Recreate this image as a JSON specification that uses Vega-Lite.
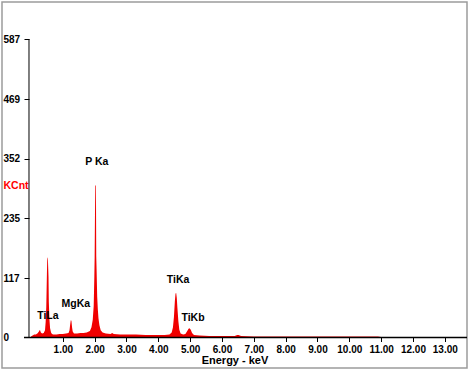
{
  "$schema": "https://vega.github.io/schema/vega-lite/v6.json",
  "width": 465,
  "height": 366,
  "autosize": {"type": "none"},
  "padding": {"left": 2, "top": 2, "right": 7, "bottom": 4},
  "background": "#ffffff",
  "config": {
    "view": {"stroke": "#9c9c9c", "strokeWidth": 1.5},
    "font": "Liberation Sans",
    "axis": {"labelOverlap": false, "grid": false, "domain": false}
  },
  "datasets": {
    "spectrum": [
      {"energy": 0.0, "count": 2}, {"energy": 0.05, "count": 4}, {"energy": 0.1, "count": 6},
      {"energy": 0.15, "count": 6}, {"energy": 0.2, "count": 8}, {"energy": 0.25, "count": 12},
      {"energy": 0.28, "count": 15}, {"energy": 0.31, "count": 10}, {"energy": 0.35, "count": 8},
      {"energy": 0.4, "count": 9}, {"energy": 0.44, "count": 14}, {"energy": 0.46, "count": 30},
      {"energy": 0.48, "count": 60}, {"energy": 0.5, "count": 125}, {"energy": 0.51, "count": 152},
      {"energy": 0.52, "count": 158}, {"energy": 0.53, "count": 156}, {"energy": 0.55, "count": 120},
      {"energy": 0.56, "count": 70}, {"energy": 0.58, "count": 35}, {"energy": 0.6, "count": 18},
      {"energy": 0.63, "count": 10}, {"energy": 0.66, "count": 7}, {"energy": 0.7, "count": 6},
      {"energy": 0.8, "count": 6}, {"energy": 0.9, "count": 7}, {"energy": 1.0, "count": 7},
      {"energy": 1.1, "count": 8}, {"energy": 1.18, "count": 9}, {"energy": 1.21, "count": 14},
      {"energy": 1.23, "count": 25}, {"energy": 1.25, "count": 34}, {"energy": 1.27, "count": 33},
      {"energy": 1.29, "count": 20}, {"energy": 1.31, "count": 12}, {"energy": 1.35, "count": 8},
      {"energy": 1.45, "count": 8}, {"energy": 1.55, "count": 9}, {"energy": 1.65, "count": 9},
      {"energy": 1.75, "count": 10}, {"energy": 1.85, "count": 13}, {"energy": 1.9, "count": 20},
      {"energy": 1.94, "count": 35}, {"energy": 1.97, "count": 62}, {"energy": 1.99, "count": 120},
      {"energy": 2.0, "count": 158}, {"energy": 2.01, "count": 240}, {"energy": 2.02, "count": 300},
      {"energy": 2.04, "count": 298}, {"energy": 2.05, "count": 160}, {"energy": 2.06, "count": 135},
      {"energy": 2.08, "count": 80}, {"energy": 2.1, "count": 55}, {"energy": 2.12, "count": 38},
      {"energy": 2.15, "count": 24}, {"energy": 2.19, "count": 14}, {"energy": 2.25, "count": 10},
      {"energy": 2.35, "count": 8}, {"energy": 2.5, "count": 7}, {"energy": 2.55, "count": 9},
      {"energy": 2.6, "count": 7}, {"energy": 2.8, "count": 6}, {"energy": 3.0, "count": 6},
      {"energy": 3.3, "count": 6}, {"energy": 3.6, "count": 5}, {"energy": 3.9, "count": 5},
      {"energy": 4.2, "count": 5}, {"energy": 4.35, "count": 6}, {"energy": 4.42, "count": 10},
      {"energy": 4.46, "count": 20}, {"energy": 4.49, "count": 40}, {"energy": 4.52, "count": 72},
      {"energy": 4.54, "count": 86}, {"energy": 4.56, "count": 88}, {"energy": 4.58, "count": 78},
      {"energy": 4.6, "count": 58}, {"energy": 4.63, "count": 32}, {"energy": 4.66, "count": 15},
      {"energy": 4.7, "count": 8}, {"energy": 4.78, "count": 6}, {"energy": 4.85, "count": 7},
      {"energy": 4.9, "count": 12}, {"energy": 4.95, "count": 17}, {"energy": 4.98, "count": 18},
      {"energy": 5.02, "count": 15}, {"energy": 5.06, "count": 9}, {"energy": 5.12, "count": 5},
      {"energy": 5.3, "count": 4}, {"energy": 5.6, "count": 3}, {"energy": 6.0, "count": 3},
      {"energy": 6.4, "count": 3}, {"energy": 6.48, "count": 5}, {"energy": 6.52, "count": 5},
      {"energy": 6.6, "count": 3}, {"energy": 7.0, "count": 2}, {"energy": 8.0, "count": 2},
      {"energy": 9.0, "count": 2}, {"energy": 10.0, "count": 2}, {"energy": 10.9, "count": 2},
      {"energy": 11.0, "count": 1}, {"energy": 11.05, "count": 0}
    ],
    "labels": [
      {"label": "P Ka", "energy": 2.07, "count": 346},
      {"label": "TiLa", "energy": 0.53, "count": 43},
      {"label": "MgKa", "energy": 1.41, "count": 65},
      {"label": "TiKa", "energy": 4.62, "count": 114},
      {"label": "TiKb", "energy": 5.09, "count": 39}
    ],
    "one": [{}]
  },
  "layer": [
    {
      "data": {"name": "spectrum"},
      "mark": {"type": "area", "color": "#f00000", "interpolate": "linear"},
      "encoding": {
        "x": {
          "field": "energy", "type": "quantitative",
          "scale": {"domain": [-0.911, 13.698], "nice": false, "zero": false},
          "axis": {
            "values": [1, 2, 3, 4, 5, 6, 7, 8, 9, 10, 11, 12, 13],
            "tickCount": 30,
            "format": ".2f",
            "offset": -30.5,
            "domain": false,
            "grid": false,
            "labelOverlap": false,
            "tickSize": 4,
            "tickColor": "#000000",
            "labelPadding": 3,
            "labelFontSize": 10,
            "labelFontWeight": "bold",
            "labelColor": "#000000",
            "title": "Energy - keV",
            "titleFontSize": 11,
            "titleFontWeight": "bold",
            "titleColor": "#000000",
            "titlePadding": 0
          }
        },
        "y": {
          "field": "count", "type": "quantitative",
          "scale": {"domain": [-60, 659.8], "nice": false, "zero": false},
          "stack": null,
          "axis": {
            "values": [0, 117, 235, 352, 469, 587],
            "tickCount": 20,
            "offset": -27,
            "domain": false,
            "grid": false,
            "labelOverlap": false,
            "tickSize": 5,
            "tickColor": "#000000",
            "labelAlign": "left",
            "labelPadding": 21,
            "labelFontSize": 10,
            "labelFontWeight": "bold",
            "labelColor": "#000000",
            "title": "KCnt",
            "titleAngle": 0,
            "titleAlign": "left",
            "titleBaseline": "middle",
            "titleX": -26,
            "titleY": 183,
            "titleColor": "#ff0000",
            "titleFontSize": 10.5,
            "titleFontWeight": "bold"
          }
        },
        "y2": {"datum": 0}
      }
    },
    {
      "data": {"name": "one"},
      "mark": {"type": "rule", "color": "#000000", "strokeWidth": 1},
      "encoding": {
        "x": {"datum": -0.063, "type": "quantitative"},
        "y": {"datum": 0, "type": "quantitative"},
        "y2": {"datum": 587}
      }
    },
    {
      "data": {"name": "one"},
      "mark": {"type": "rule", "color": "#000000", "strokeWidth": 1.5},
      "encoding": {
        "x": {"datum": -0.22, "type": "quantitative"},
        "x2": {"datum": 13.698},
        "y": {"datum": 0, "type": "quantitative"}
      }
    },
    {
      "data": {"name": "labels"},
      "mark": {"type": "text", "fontSize": 10.5, "fontWeight": "bold", "color": "#000000", "align": "center", "baseline": "middle"},
      "encoding": {
        "x": {"field": "energy", "type": "quantitative"},
        "y": {"field": "count", "type": "quantitative"},
        "text": {"field": "label"}
      }
    }
  ]
}
